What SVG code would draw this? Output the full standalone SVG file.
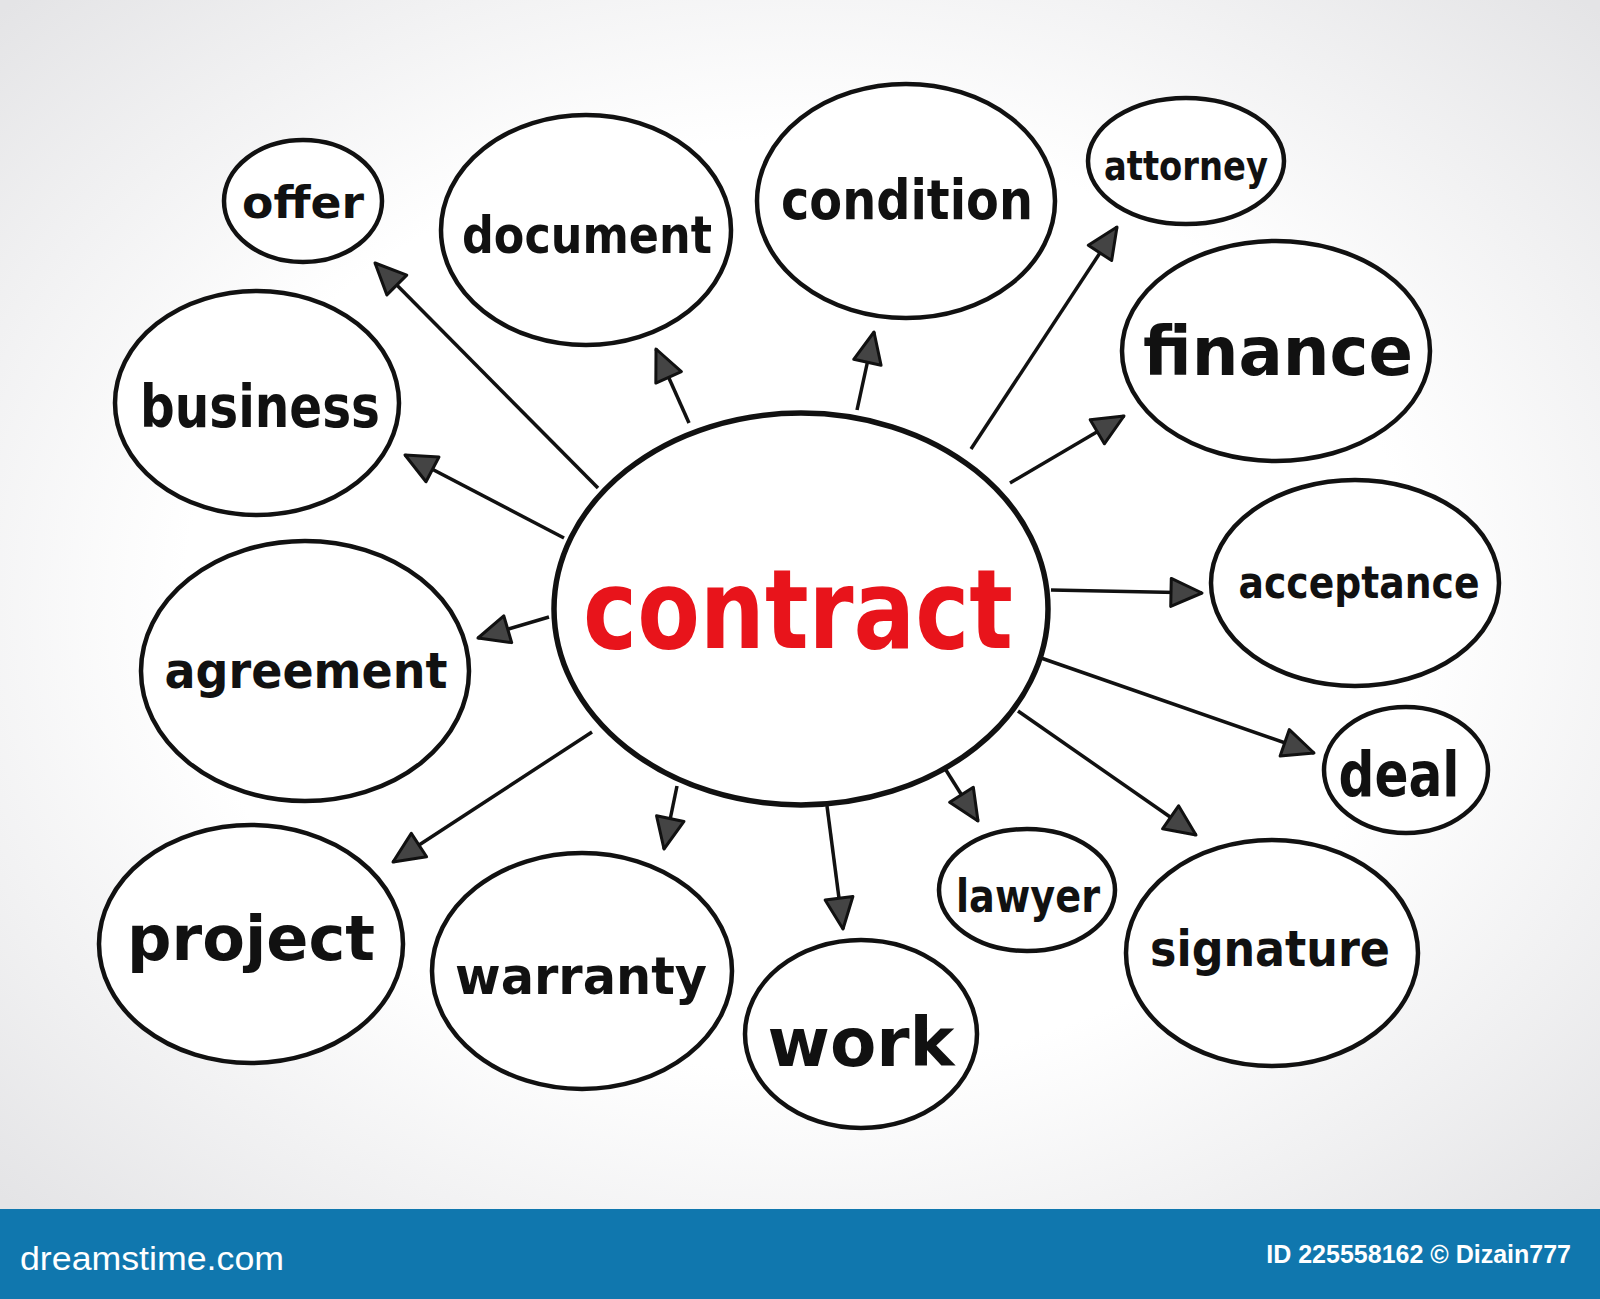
<svg xmlns="http://www.w3.org/2000/svg" width="1600" height="1299" viewBox="0 0 1600 1299">
<style>
.n{fill:#fff;stroke:#111;stroke-width:4.5}
.c{fill:#fff;stroke:#111;stroke-width:5.5}
.t{font-family:"DejaVu Sans","Liberation Sans",sans-serif;font-weight:bold;fill:#111;text-anchor:middle}
.ct{font-family:"DejaVu Sans","Liberation Sans",sans-serif;font-weight:bold;fill:#e8141b;text-anchor:middle}
.a{stroke:#111;stroke-width:3.5;fill:none;marker-end:url(#ah)}
.w{font-family:"Liberation Sans",sans-serif;fill:#fff}
</style>
<defs>
<radialGradient id="bg" cx="50%" cy="50%" r="70%">
<stop offset="0.55" stop-color="#ffffff"/>
<stop offset="1" stop-color="#e4e4e6"/>
</radialGradient>
<marker id="ah" markerUnits="userSpaceOnUse" markerWidth="40" markerHeight="40" refX="34" refY="17" orient="auto" viewBox="0 0 40 40">
<path d="M3,3 L34,17 L3,31 Z" fill="#444" stroke="#111" stroke-width="3" stroke-linejoin="round"/>
</marker>
</defs>
<rect x="0" y="0" width="1600" height="1209" fill="url(#bg)"/>
<g id="connectors">
<line class="a" x1="598" y1="488" x2="375" y2="263"/>
<line class="a" x1="689" y1="423" x2="656" y2="349"/>
<line class="a" x1="857" y1="410" x2="874" y2="332"/>
<line class="a" x1="971" y1="449" x2="1117" y2="227"/>
<line class="a" x1="1010" y1="483" x2="1124" y2="416"/>
<line class="a" x1="564" y1="538" x2="405" y2="455"/>
<line class="a" x1="549" y1="617" x2="478" y2="638"/>
<line class="a" x1="1051" y1="590" x2="1202" y2="593"/>
<line class="a" x1="1041" y1="658" x2="1314" y2="753"/>
<line class="a" x1="1018" y1="711" x2="1196" y2="835"/>
<line class="a" x1="944" y1="767" x2="978" y2="821"/>
<line class="a" x1="827" y1="806" x2="843" y2="929"/>
<line class="a" x1="677" y1="786" x2="664" y2="849"/>
<line class="a" x1="592" y1="732" x2="393" y2="862"/>
</g>
<g id="contract">
<ellipse class="c" cx="801" cy="609" rx="247" ry="196"/>
<text class="ct" x="798" y="648" font-size="110" textLength="430" lengthAdjust="spacingAndGlyphs">contract</text>
</g>
<g id="offer">
<ellipse class="n" cx="303" cy="201" rx="79" ry="61"/>
<text class="t" x="303" y="218" font-size="44" textLength="122" lengthAdjust="spacingAndGlyphs">offer</text>
</g>
<g id="document">
<ellipse class="n" cx="586" cy="230" rx="145" ry="115"/>
<text class="t" x="587" y="253" font-size="52" textLength="250" lengthAdjust="spacingAndGlyphs">document</text>
</g>
<g id="condition">
<ellipse class="n" cx="906" cy="201" rx="149" ry="117"/>
<text class="t" x="907" y="219" font-size="56" textLength="252" lengthAdjust="spacingAndGlyphs">condition</text>
</g>
<g id="attorney">
<ellipse class="n" cx="1186" cy="161" rx="98" ry="63"/>
<text class="t" x="1186" y="180" font-size="40" textLength="164" lengthAdjust="spacingAndGlyphs">attorney</text>
</g>
<g id="finance">
<ellipse class="n" cx="1276" cy="351" rx="154" ry="110"/>
<text class="t" x="1278" y="375" font-size="68" textLength="270" lengthAdjust="spacingAndGlyphs">finance</text>
</g>
<g id="business">
<ellipse class="n" cx="257" cy="403" rx="142" ry="112"/>
<text class="t" x="260" y="427" font-size="58" textLength="240" lengthAdjust="spacingAndGlyphs">business</text>
</g>
<g id="acceptance">
<ellipse class="n" cx="1355" cy="583" rx="144" ry="103"/>
<text class="t" x="1359" y="598" font-size="44" textLength="241" lengthAdjust="spacingAndGlyphs">acceptance</text>
</g>
<g id="agreement">
<ellipse class="n" cx="305" cy="671" rx="164" ry="130"/>
<text class="t" x="306" y="688" font-size="50" textLength="283" lengthAdjust="spacingAndGlyphs">agreement</text>
</g>
<g id="deal">
<ellipse class="n" cx="1406" cy="770" rx="82" ry="63"/>
<text class="t" x="1399" y="796" font-size="62" textLength="121" lengthAdjust="spacingAndGlyphs">deal</text>
</g>
<g id="project">
<ellipse class="n" cx="251" cy="944" rx="152" ry="119"/>
<text class="t" x="251" y="960" font-size="62" textLength="248" lengthAdjust="spacingAndGlyphs">project</text>
</g>
<g id="warranty">
<ellipse class="n" cx="582" cy="971" rx="150" ry="118"/>
<text class="t" x="581" y="994" font-size="52" textLength="252" lengthAdjust="spacingAndGlyphs">warranty</text>
</g>
<g id="work">
<ellipse class="n" cx="861" cy="1034" rx="116" ry="94"/>
<text class="t" x="861" y="1066" font-size="68" textLength="187" lengthAdjust="spacingAndGlyphs">work</text>
</g>
<g id="lawyer">
<ellipse class="n" cx="1027" cy="890" rx="88" ry="61"/>
<text class="t" x="1028" y="912" font-size="46" textLength="144" lengthAdjust="spacingAndGlyphs">lawyer</text>
</g>
<g id="signature">
<ellipse class="n" cx="1272" cy="953" rx="146" ry="113"/>
<text class="t" x="1270" y="966" font-size="50" textLength="240" lengthAdjust="spacingAndGlyphs">signature</text>
</g>
<g id="footer">
<rect x="0" y="1209" width="1600" height="90" fill="#1077ae"/>
<text class="w" x="20" y="1270" font-size="34" textLength="264" lengthAdjust="spacingAndGlyphs">dreamstime.com</text>
<text class="w" x="1571" y="1263" font-size="25" font-weight="bold" text-anchor="end">ID 225558162 © Dizain777</text>
</g>
</svg>
